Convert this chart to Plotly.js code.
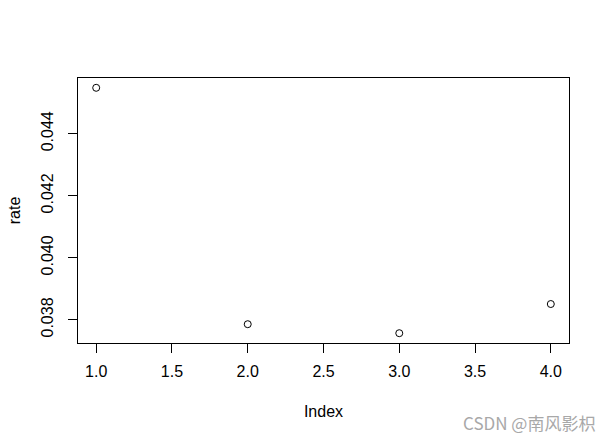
<!DOCTYPE html>
<html>
<head>
<meta charset="utf-8">
<script src="https://cdn.plot.ly/plotly-3.0.1.min.js"></script>
<style>html,body{margin:0;padding:0;background:#fff;}</style>
</head>
<body>
<div id="chart" style="width:610px;height:441px;"></div>
<script>
const indexValues = [1, 2, 3, 4];
const rateValues = [0.04548, 0.03786, 0.03757, 0.03851];
const xTickVals = [1.0, 1.5, 2.0, 2.5, 3.0, 3.5, 4.0];
const xTickText = ["1.0", "1.5", "2.0", "2.5", "3.0", "3.5", "4.0"];
const yTickVals = [0.038, 0.040, 0.042, 0.044];
const yTickText = ["0.038", "0.040", "0.042", "0.044"];

const font = "Liberation Sans, Arial, sans-serif";
const trace = {
  x: indexValues,
  y: rateValues,
  type: "scatter",
  mode: "markers",
  marker: {symbol: "circle-open", size: 7, color: "#000", line: {width: 1, color: "#000"}},
  hoverinfo: "none"
};
const layout = {
  width: 610, height: 441,
  margin: {l: 78, r: 41, t: 78, b: 98},
  paper_bgcolor: "#fff", plot_bgcolor: "#fff",
  showlegend: false,
  font: {family: font, size: 16, color: "#000"},
  xaxis: {
    range: [0.88, 4.12], tickvals: xTickVals, ticktext: xTickText,
    showgrid: false, zeroline: false, showline: true, mirror: true,
    linecolor: "#000", linewidth: 1, ticks: "outside", ticklen: 9, tickcolor: "#000", tickwidth: 1,
    ticklabelstandoff: 5,
    tickfont: {family: font, size: 16, color: "#000"},
    title: {text: "Index", font: {family: font, size: 16, color: "#000"}, standoff: 26}
  },
  yaxis: {
    range: [0.037254, 0.045796], tickvals: yTickVals, ticktext: yTickText, tickangle: -90,
    showgrid: false, zeroline: false, showline: true, mirror: true,
    linecolor: "#000", linewidth: 1, ticks: "outside", ticklen: 9, tickcolor: "#000", tickwidth: 1,
    ticklabelstandoff: 9,
    tickfont: {family: font, size: 16, color: "#000"},
    title: {text: "rate", font: {family: font, size: 16, color: "#000"}, standoff: 13}
  },
  annotations: [{
    text: "CSDN @南风影枳", xref: "paper", yref: "paper", x: 1.057, y: -0.3,
    xanchor: "right", yanchor: "middle", showarrow: false,
    font: {family: "Noto Sans CJK SC, sans-serif", size: 17, color: "#a8a8a8"}
  }]
};
Plotly.newPlot("chart", [trace], layout, {staticPlot: true, displayModeBar: false});
</script>
</body>
</html>
